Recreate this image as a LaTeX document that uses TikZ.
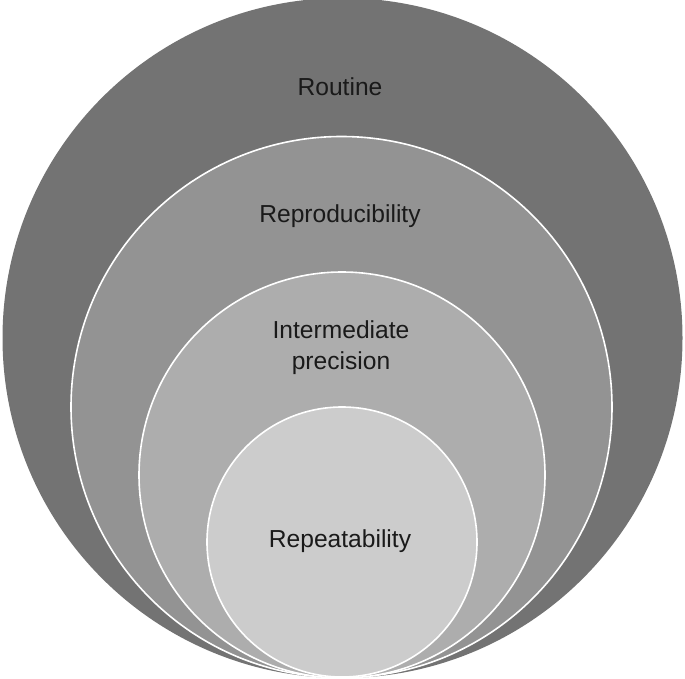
\documentclass[tikz,border=0pt]{standalone}
\usepackage{fontspec}
\setmainfont{Liberation Sans}
\definecolor{cA}{HTML}{737373}
\definecolor{cB}{HTML}{939393}
\definecolor{cC}{HTML}{ADADAD}
\definecolor{cD}{HTML}{CCCCCC}
\definecolor{txt}{HTML}{1A1A1A}
\tikzset{
  ring/.style={circle, inner sep=0pt, outer sep=0pt},
  inring/.style={ring, draw=white, line width=1.6pt},
  lbl/.style={font=\fontsize{24.6}{31}\selectfont, text=txt, align=center, inner sep=0pt}
}
\begin{document}
\begin{tikzpicture}[x=1pt,y=-1pt]
\useasboundingbox (0,0) rectangle (685,679);
\node[ring, fill=cA, minimum size=680pt] (routine) at (342.5,338) {};
\node[inring, fill=cB, minimum size=541pt] (repro) at (341.5,407) {};
\node[inring, fill=cC, minimum size=406pt] (inter) at (342,475) {};
\node[inring, fill=cD, minimum size=270pt] (repeat) at (342,542) {};
\node[lbl] (t1) at (340,87) {Routine};
\node[lbl] (t2) at (340,216) {Reproducibility};
\node[lbl] (t3) at (341,348) {Intermediate\\precision};
\node[lbl] (t4) at (340,541) {Repeatability};
\end{tikzpicture}
\end{document}
